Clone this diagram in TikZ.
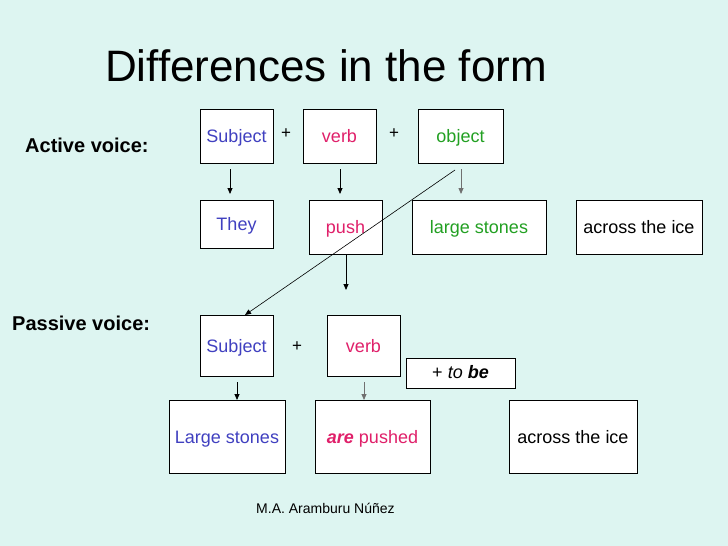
\documentclass[tikz,border=0pt]{standalone}
\usepackage{fontspec}
\setmainfont{Liberation Sans}
\usetikzlibrary{arrows.meta}
\definecolor{bg}{HTML}{DDF5F1}
\definecolor{cblue}{HTML}{4040C0}
\definecolor{cmag}{HTML}{E0206A}
\definecolor{cgreen}{HTML}{22A022}
\definecolor{cgray}{HTML}{707070}
\tikzset{
  box/.style={draw=black, fill=white, line width=1pt, inner sep=0pt, text height=17pt, text depth=4pt, font=\fontsize{18}{21}\selectfont},
  plus/.style={inner sep=0pt, font=\fontsize{17}{20}\selectfont},
  lbl/.style={inner sep=0pt, font=\fontsize{20}{24}\selectfont\bfseries},
  arr/.style={line width=0.8pt, -{Triangle[length=6pt,width=5pt]}},
  garr/.style={arr, draw=cgray},
}
\begin{document}
\begin{tikzpicture}[x=1pt,y=-1pt]
\fill[bg] (0,0) rectangle (728,546);
\useasboundingbox (0,0) rectangle (728,546);
\node[inner sep=0pt, anchor=base west, font=\fontsize{44}{50}\selectfont] (title) at (105,81.5) {Differences in the form};
\node[lbl, anchor=west] (lact) at (25,145) {Active voice:};
\node[lbl, anchor=west] (lpas) at (12,323) {Passive voice:};
% active row
\node[box, minimum width=73pt, minimum height=54pt, text=cblue] (subjA) at (236.5,136) {Subject};
\node[box, minimum width=73pt, minimum height=54pt, text=cmag] (verbA) at (339.5,136) {verb};
\node[box, minimum width=85pt, minimum height=54pt, text=cgreen] (objA) at (460.5,136) {object};
\node[plus] (p1) at (286,134) {+};
\node[plus] (p2) at (394,134) {+};
\node[box, minimum width=73pt, minimum height=48pt, text=cblue] (they) at (236.5,224) {They};
\node[box, minimum width=73pt, minimum height=54pt, text=cmag] (push) at (345.5,227) {push};
\node[box, minimum width=134pt, minimum height=54pt, text=cgreen] (stones) at (479,227) {large stones};
\node[box, minimum width=126pt, minimum height=54pt] (iceA) at (639,227) {across the ice};
% passive row
\node[box, minimum width=73pt, minimum height=61pt, text=cblue] (subjP) at (236.5,345.5) {Subject};
\node[box, minimum width=73pt, minimum height=61pt, text=cmag] (verbP) at (363.5,345.5) {verb};
\node[plus] (p3) at (297,347) {+};
\node[box, minimum width=109pt, minimum height=30pt, text height=15pt, text depth=4pt] (tobe) at (460.5,373) {+ \textit{to} \textbf{\textit{be}}};
\node[box, minimum width=116pt, minimum height=73pt, text=cblue] (lstones) at (227,436.5) {Large stones};
\node[box, minimum width=115pt, minimum height=73pt, text=cmag] (pushed) at (372.5,436.5) {\textbf{\textit{are}} pushed};
\node[box, minimum width=128pt, minimum height=73pt] (iceP) at (573,436.5) {across the ice};
\node[inner sep=0pt, anchor=base west, font=\fontsize{14}{17}\selectfont] (foot) at (256,513) {M.A. Aramburu Núñez};
% arrow end points
\coordinate (a1s) at (230,169); \coordinate (a1e) at (230,194);
\coordinate (a2s) at (340,169); \coordinate (a2e) at (340,194);
\coordinate (a3s) at (461,169); \coordinate (a3e) at (461,194);
\coordinate (dgs) at (455,170); \coordinate (dge) at (245,315);
\coordinate (a4e) at (346,290);
\coordinate (a5s) at (237,382); \coordinate (a5e) at (237,400);
\coordinate (a6s) at (364,382); \coordinate (a6e) at (364,400);
\draw[arr] (a1s) -- (a1e);
\draw[arr] (a2s) -- (a2e);
\draw[garr] (a3s) -- (a3e);
\draw[line width=0.6pt, -{Triangle[length=6pt,width=5pt]}] (dgs) -- (dge);
\draw[arr] (push.south -| a4e) -- (a4e);
\draw[arr] (a5s) -- (a5e);
\draw[garr] (a6s) -- (a6e);
\end{tikzpicture}
\end{document}
